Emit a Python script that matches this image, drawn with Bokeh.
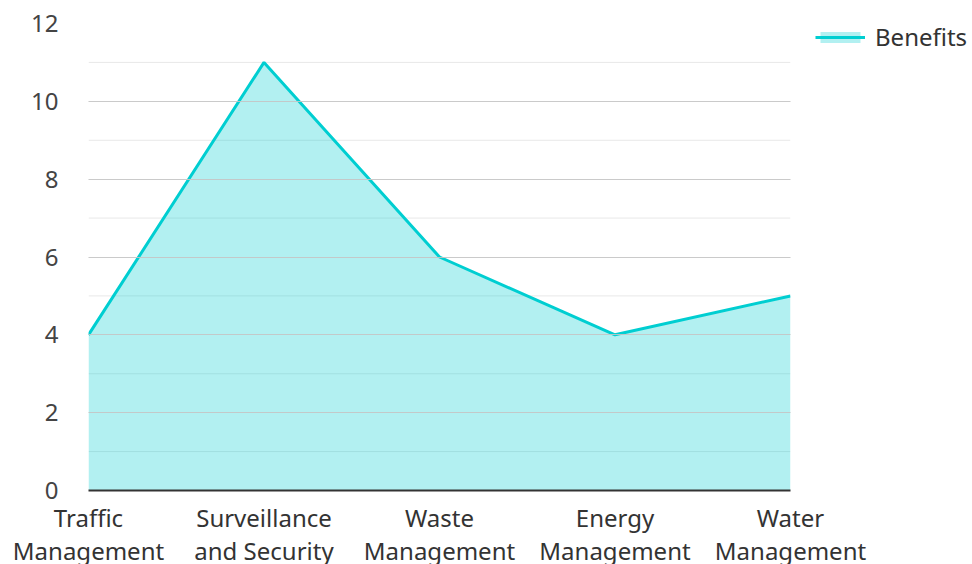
from bokeh.plotting import figure
from bokeh.models import FixedTicker, Legend, LegendItem, Range1d
from bokeh.embed import file_html
from bokeh.resources import INLINE

categories = ["Traffic\nManagement", "Surveillance\nand Security", "Waste\nManagement",
              "Energy\nManagement", "Water\nManagement"]
benefits = [4, 11, 6, 4, 5]
y_ticks = [0, 2, 4, 6, 8, 10, 12]
y_minor = [1, 3, 5, 7, 9, 11]

FONT = "Noto Sans"
TEAL = "#00CED1"
FS = "24px"

xs = list(range(len(categories)))

p = figure(frame_width=702, frame_height=467, output_backend="svg", toolbar_location=None,
           x_range=Range1d(0, len(categories) - 1), y_range=Range1d(0, 12),
           min_border_left=88, min_border_right=0, min_border_top=23,
           min_border_bottom=0)
p.outline_line_color = None

# light grid at odd values
for v in y_minor:
    p.line([0, len(categories) - 1], [v, v], line_color="#e8e8e8", line_width=1)

area = p.varea(x=xs, y1=[0] * len(xs), y2=benefits, fill_color=TEAL, fill_alpha=0.3)
line = p.line(x=xs, y=benefits, line_color=TEAL, line_width=3)

p.xgrid.visible = False
p.ygrid.ticker = FixedTicker(ticks=y_ticks[1:])
p.ygrid.grid_line_color = "#c4c4c4"
p.ygrid.grid_line_width = 1
p.ygrid.level = "overlay"
p.ygrid.grid_line_alpha = 0.9

p.yaxis.ticker = FixedTicker(ticks=y_ticks)
p.yaxis.axis_line_color = None
p.yaxis.major_tick_line_color = None
p.yaxis.minor_tick_line_color = None
p.yaxis.major_label_text_font = FONT
p.yaxis.major_label_text_font_size = FS
p.yaxis.major_label_text_color = "#444444"
p.yaxis.major_label_standoff = 24

p.xaxis.ticker = FixedTicker(ticks=xs)
p.xaxis.major_label_overrides = {i: c for i, c in enumerate(categories)}
p.xaxis.axis_line_color = "#333333"
p.xaxis.axis_line_width = 2
p.xaxis.major_tick_line_color = None
p.xaxis.minor_tick_line_color = None
p.xaxis.major_label_text_font = FONT
p.xaxis.major_label_text_font_size = FS
p.xaxis.major_label_text_color = "#333333"
p.xaxis.major_label_text_line_height = 1.0
p.xaxis.major_label_standoff = 4

legend = Legend(items=[LegendItem(label="Benefits", renderers=[area, line])],
                location=(25, 437), orientation="vertical",
                glyph_width=50, glyph_height=14, label_standoff=10,
                label_text_font=FONT, label_text_font_size=FS,
                label_text_color="#333333", border_line_color=None,
                background_fill_alpha=0, padding=0, margin=25)
p.add_layout(legend, "right")

open("out.html", "w").write(file_html(p, INLINE))
